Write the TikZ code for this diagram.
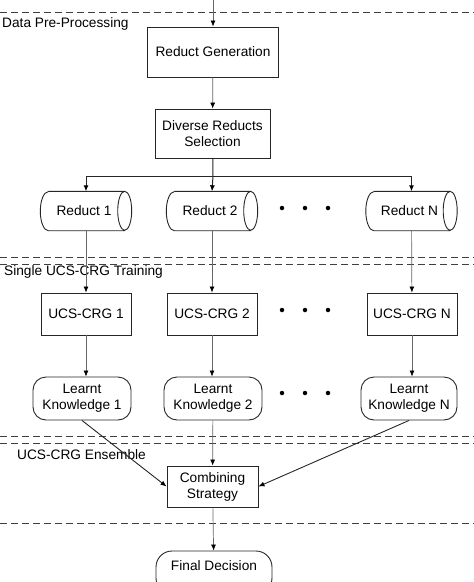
\documentclass[tikz,border=0pt]{standalone}
\usepackage{fontspec}
\setmainfont{Liberation Sans}
\usetikzlibrary{arrows.meta}
\begin{document}
\begin{tikzpicture}[x=1pt,y=-1pt,
  every node/.style={font=\fontsize{13.7}{16}\selectfont, inner sep=0pt},
  box/.style={draw=black!85, line width=0.9pt, minimum width=#1, align=center},
  box/.default=92,
  rbox/.style={draw=black!85, line width=0.9pt, rounded corners=13pt, minimum height=43, minimum width=98, align=center},
  cylbox/.style={minimum width=91, minimum height=39},
  conn/.style={draw=black!60, line width=0.7pt, -{Latex[length=6pt,width=5pt,black]}},
  sep/.style={draw=black!75, line width=1pt, dash pattern=on 7pt off 4pt},
  dot/.style={fill=black, circle, minimum size=4.5pt},
  lab/.style={anchor=west}]
\useasboundingbox (0,0) rectangle (474,582);
\clip (0,0) rectangle (474,582);
% separators
\draw[sep] (0,12) -- (474,12);
\draw[sep] (0,257) -- (474,257);
\draw[sep] (0,264) -- (474,264);
\draw[sep] (0,436) -- (474,436);
\draw[sep] (0,443) -- (474,443);
\draw[sep] (0,523) -- (474,523);
\node[lab] (l1) at (2,24) {Data Pre-Processing};
\node[lab] (l2) at (4,272) {Single UCS-CRG Training};
\node[lab] (l3) at (17,455) {UCS-CRG Ensemble};
% top boxes
\coordinate (in) at (213,-2);
\node[box=131, minimum height=50] (rg) at (213,52) {Reduct Generation};
\node[box=115, minimum height=49] (ds) at (212.5,133.5) {Diverse Reducts\\Selection};
% cylinders
\foreach \n/\x/\t in {r1/86/Reduct 1, r2/212/Reduct 2, rn/411.5/Reduct N}{
  \node[cylbox] (\n) at (\x,211) {};
  \node (\n t) at ([xshift=-2pt]\n.center) {\t};
  \draw[draw=black!85, line width=0.9pt] ([xshift=8pt]\n.north west) -- ([xshift=-7pt]\n.north east)
     arc[start angle=90, end angle=-270, x radius=7pt, y radius=19.5pt]
     ([xshift=-7pt]\n.south east) -- ([xshift=8pt]\n.south west)
     arc[start angle=270, end angle=90, x radius=8pt, y radius=19.5pt];
}
% UCS-CRG
\node[box=90, minimum height=42] (u1) at (86,314) {UCS-CRG 1};
\node[box=90, minimum height=42] (u2) at (212,314) {UCS-CRG 2};
\node[box=90, minimum height=42] (un) at (412,314) {UCS-CRG N};
% learnt knowledge
\node[rbox] (k1) at (82,398.5) {Learnt\\Knowledge 1};
\node[rbox] (k2) at (213,398.5) {Learnt\\Knowledge 2};
\node[rbox, minimum width=96] (kn) at (409,398.5) {Learnt\\Knowledge N};
% combining + final
\node[box=91, minimum height=41] (cs) at (212.5,486.5) {Combining\\Strategy};
\node[rbox, minimum width=116, rounded corners=16pt] (fd) at (214,572.5) {};
\node (fdt) at (214,566) {Final Decision};
% dots
\foreach \y/\r in {208/a,310/b,393/c}{
  \node[dot] (d1\r) at (282,\y) {};
  \node[dot] (d2\r) at (305,\y) {};
  \node[dot] (d3\r) at (328,\y) {};
}
% connectors
\draw[conn] (in) -- (rg);
\draw[conn] (rg) -- (ds);
\coordinate (bus) at (213,176);
\draw[draw=black!85, line width=1pt] (ds) -- (bus);
\draw[conn, draw=black!85, line width=1pt] (bus) -| (r1.north);
\draw[conn, draw=black!85, line width=1pt] (bus) -- (r2.north);
\draw[conn, draw=black!85, line width=1pt] (bus) -| (rn.north);
\draw[conn] (r1) -- (u1);
\draw[conn] (r2) -- (u2);
\draw[conn] (rn) -- (un);
\draw[conn] (u1) -- (k1.north -| u1);
\draw[conn] (u2) -- (k2.north -| u2);
\draw[conn] (un) -- (kn.north -| un);
\draw[conn, draw=black!85, line width=0.9pt] (k1.south) -- (cs.west);
\draw[conn] (k2) -- (cs);
\draw[conn, draw=black!85, line width=0.9pt] (kn.south) -- (cs.east);
\draw[conn] (cs) -- (fd);
\end{tikzpicture}
\end{document}
